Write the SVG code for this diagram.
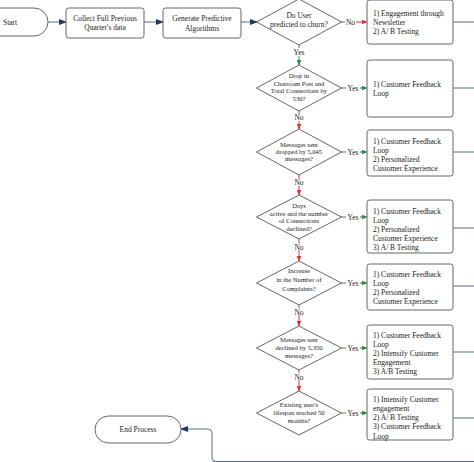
<svg xmlns="http://www.w3.org/2000/svg" width="474" height="462" viewBox="0 0 474 462">
<style>
.bg{fill:#fff}
.shape{fill:#fff;stroke:#555;stroke-width:0.9}
.t{font-family:"Liberation Serif","Times New Roman",serif;font-size:7.5px;fill:#1a1a1a}
.s{font-size:6.6px}
.c{text-anchor:middle}
.main{fill:none;stroke:#4a5a78;stroke-width:0.9}
.yes{fill:none;stroke:#2e8b3e;stroke-width:1}
.no{fill:none;stroke:#e0303a;stroke-width:1}
.lbl{font-family:"Liberation Serif","Times New Roman",serif;font-size:7.5px;fill:#1a1a1a;text-anchor:middle}
</style>
<defs>
<marker id="an" markerWidth="8" markerHeight="6" refX="7" refY="3" orient="auto" markerUnits="userSpaceOnUse"><path d="M0,0 L8,3 L0,6 Z" fill="#1f3864"/></marker>
<marker id="ag" markerWidth="6" markerHeight="5" refX="5.5" refY="2.5" orient="auto" markerUnits="userSpaceOnUse"><path d="M0,0 L6,2.5 L0,5 Z" fill="#2e8b3e"/></marker>
<marker id="ar" markerWidth="6" markerHeight="5" refX="5.5" refY="2.5" orient="auto" markerUnits="userSpaceOnUse"><path d="M0,0 L6,2.5 L0,5 Z" fill="#e0303a"/></marker>
</defs>
<rect class="bg" x="0" y="0" width="474" height="462"/>

<g id="connectors">
<path class="main" d="M48,22 H66" marker-end="url(#an)"/>
<path class="main" d="M144,22 H163" marker-end="url(#an)"/>
<path class="main" d="M241,22 H257" marker-end="url(#an)"/>
<path class="main" d="M453,22 H474"/>
<path class="main" d="M453,88 H474"/>
<path class="main" d="M453,152 H474"/>
<path class="main" d="M453,228 H474"/>
<path class="main" d="M453,286 H474"/>
<path class="main" d="M453,352 H474"/>
<path class="main" d="M453,418 H474"/>
<path class="main" d="M474,461.5 H216 Q212,461.5 212,458 V433 Q212,429 208,429 H181" marker-end="url(#an)"/>
<path class="main" stroke-opacity="0.5" d="M212,461.5 H474"/>
<!-- No horizontal from D1 -->
<path class="no" d="M341.5,22 H345"/>
<path class="no" d="M356,22 H367" marker-end="url(#ar)"/>
<text class="lbl" x="350.5" y="24.5">No</text>
<!-- Yes down from D1 -->
<path class="yes" d="M299,45 V48"/>
<path class="yes" d="M299,56 V65" marker-end="url(#ag)"/>
<text class="lbl" x="299" y="54.5">Yes</text>
<!-- Yes horizontals -->
<g>
<path class="yes" d="M341.5,88 H346"/><path class="yes" d="M360,88 H367" marker-end="url(#ag)"/><text class="lbl" x="353" y="90.5">Yes</text>
<path class="yes" d="M341.5,152 H346"/><path class="yes" d="M360,152 H367" marker-end="url(#ag)"/><text class="lbl" x="353" y="154.5">Yes</text>
<path class="yes" d="M341.5,217 H346"/><path class="yes" d="M360,217 H367" marker-end="url(#ag)"/><text class="lbl" x="353" y="219.5">Yes</text>
<path class="yes" d="M341.5,283 H346"/><path class="yes" d="M360,283 H367" marker-end="url(#ag)"/><text class="lbl" x="353" y="285.5">Yes</text>
<path class="yes" d="M341.5,348 H346"/><path class="yes" d="M360,348 H367" marker-end="url(#ag)"/><text class="lbl" x="353" y="350.5">Yes</text>
<path class="yes" d="M341.5,413 H346"/><path class="yes" d="M360,413 H367" marker-end="url(#ag)"/><text class="lbl" x="353" y="415.5">Yes</text>
</g>
<!-- No verticals -->
<g>
<path class="no" d="M299,111 V114"/><path class="no" d="M299,121 V129" marker-end="url(#ar)"/><text class="lbl" x="299" y="120">No</text>
<path class="no" d="M299,175 V179"/><path class="no" d="M299,186 V195" marker-end="url(#ar)"/><text class="lbl" x="299" y="185">No</text>
<path class="no" d="M299,239 V243"/><path class="no" d="M299,250 V261" marker-end="url(#ar)"/><text class="lbl" x="299" y="249.5">No</text>
<path class="no" d="M299,305 V308"/><path class="no" d="M299,315 V326" marker-end="url(#ar)"/><text class="lbl" x="299" y="314.5">No</text>
<path class="no" d="M299,370 V373"/><path class="no" d="M299,380 V391" marker-end="url(#ar)"/><text class="lbl" x="299" y="379.5">No</text>
</g>
</g>

<g id="start">
<rect class="shape" x="-30" y="8" width="78" height="28" rx="14"/>
<text class="t" x="3" y="24.5">Start</text>
</g>
<g id="collect">
<rect class="shape" x="66" y="8" width="78" height="30" rx="2.5"/>
<text class="t c" x="105" y="20.5">Collect Full Previous</text>
<text class="t c" x="105" y="30">Quarter's data</text>
</g>
<g id="generate">
<rect class="shape" x="163" y="8" width="78" height="30" rx="2.5"/>
<text class="t c" x="202" y="21">Generate Predictive</text>
<text class="t c" x="202" y="31">Algorithms</text>
</g>

<g id="d1">
<polygon class="shape" points="299,-1 341.5,22 299,45 256.5,22"/>
<text class="t c" x="299" y="17.5">Do User</text>
<text class="t c" x="299" y="27">predicted to churn?</text>
</g>
<g id="b1">
<rect class="shape" x="367" y="0" width="86" height="44" rx="2.5"/>
<text class="t" x="373" y="16">1) Engagement through</text>
<text class="t" x="373" y="24.5">Newsletter</text>
<text class="t" x="373" y="34">2) A/ B Testing</text>
</g>

<g id="d2">
<polygon class="shape" points="299,65 341.5,88 299,111 256.5,88"/>
<text class="t s c" x="299" y="78">Drop in</text>
<text class="t s c" x="299" y="86">Chatroom Post and</text>
<text class="t s c" x="299" y="93">Total Connections by</text>
<text class="t s c" x="299" y="100.5">530?</text>
</g>
<g id="b2">
<rect class="shape" x="367" y="60" width="86" height="57" rx="2.5"/>
<text class="t" x="373" y="86.5">1) Customer Feedback</text>
<text class="t" x="373" y="95.5">Loop</text>
</g>

<g id="d3">
<polygon class="shape" points="299,129 341.5,152 299,175 256.5,152"/>
<text class="t s c" x="299" y="147">Messages sent</text>
<text class="t s c" x="299" y="154">dropped by 5,045</text>
<text class="t s c" x="299" y="161">messages?</text>
</g>
<g id="b3">
<rect class="shape" x="367" y="130" width="86" height="46" rx="2.5"/>
<text class="t" x="373" y="143.5">1) Customer Feedback</text>
<text class="t" x="373" y="152.5">Loop</text>
<text class="t" x="373" y="161.5">2) Personalized</text>
<text class="t" x="373" y="170.5">Customer Experience</text>
</g>

<g id="d4">
<polygon class="shape" points="299,195 341.5,217 299,239 256.5,217"/>
<text class="t s c" x="299" y="208">Days</text>
<text class="t s c" x="299" y="215.5">active and the number</text>
<text class="t s c" x="299" y="223">of Connections</text>
<text class="t s c" x="299" y="230.5">declined?</text>
</g>
<g id="b4">
<rect class="shape" x="367" y="200" width="86" height="53" rx="2.5"/>
<text class="t" x="373" y="213.5">1) Customer Feedback</text>
<text class="t" x="373" y="222.5">Loop</text>
<text class="t" x="373" y="231.5">2) Personalized</text>
<text class="t" x="373" y="240.5">Customer Experience</text>
<text class="t" x="373" y="249.5">3) A/ B Testing</text>
</g>

<g id="d5">
<polygon class="shape" points="299,261 341.5,283 299,305 256.5,283"/>
<text class="t s c" x="299" y="273">Increase</text>
<text class="t s c" x="299" y="281.5">in the Number of</text>
<text class="t s c" x="299" y="290.5">Complaints?</text>
</g>
<g id="b5">
<rect class="shape" x="367" y="264" width="86" height="46" rx="2.5"/>
<text class="t" x="373" y="276.5">1) Customer Feedback</text>
<text class="t" x="373" y="285.5">Loop</text>
<text class="t" x="373" y="294.5">2) Personalized</text>
<text class="t" x="373" y="303.5">Customer Experience</text>
</g>

<g id="d6">
<polygon class="shape" points="299,326 341.5,348 299,370 256.5,348"/>
<text class="t s c" x="299" y="342">Messages sent</text>
<text class="t s c" x="299" y="350">declined by 5,350</text>
<text class="t s c" x="299" y="358">messages?</text>
</g>
<g id="b6">
<rect class="shape" x="367" y="325" width="86" height="54" rx="2.5"/>
<text class="t" x="373" y="337.5">1) Customer Feedback</text>
<text class="t" x="373" y="346.5">Loop</text>
<text class="t" x="373" y="355.5">2) Intensify Customer</text>
<text class="t" x="373" y="364.5">Engagement</text>
<text class="t" x="373" y="373.5">3) A/B Testing</text>
</g>

<g id="d7">
<polygon class="shape" points="299,391 341.5,413 299,435 256.5,413"/>
<text class="t s c" x="299" y="407">Existing user's</text>
<text class="t s c" x="299" y="415">lifespan reached 50</text>
<text class="t s c" x="299" y="423">months?</text>
</g>
<g id="b7">
<rect class="shape" x="367" y="389" width="86" height="51" rx="2.5"/>
<text class="t" x="373" y="402">1) Intensify Customer</text>
<text class="t" x="373" y="411">engagement</text>
<text class="t" x="373" y="420">2) A/ B Testing</text>
<text class="t" x="373" y="429">3) Customer Feedback</text>
<text class="t" x="373" y="439">Loop</text>
</g>

<g id="end">
<rect class="shape" x="95" y="416" width="86" height="27" rx="13.5"/>
<text class="t c" x="138" y="432">End Process</text>
</g>
</svg>
